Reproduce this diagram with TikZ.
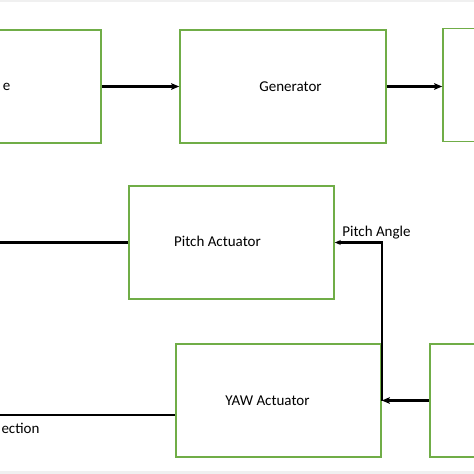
\documentclass[tikz,border=0pt]{standalone}
\usepackage{fontspec}
\setmainfont{Carlito}
\usetikzlibrary{arrows.meta}
\definecolor{boxgreen}{RGB}{112,173,71}

\begin{document}
\begin{tikzpicture}[>={Stealth[length=8pt,width=6.5pt,inset=1.5pt]},x=1pt,y=-1pt,
  block/.style={rectangle,draw=boxgreen,line width=1.6pt,minimum height=113pt},
  conn/.style={line width=2.3pt},
  every node/.style={font=\fontsize{15}{18}\selectfont}]

  \useasboundingbox (0,0) rectangle (474,474);
  \clip (0,0) rectangle (474,474);
  \fill[gray!12] (0,0) rectangle (474,2);
  \fill[gray!12] (0,471) rectangle (474,474);

  % top row
  \node[block,minimum width=189pt] (turbine) at (6.5,86.5) {e};
  \node[block,minimum width=206pt] (generator) at (283,86.5) {};
  \node (gentext) at (290.5,87) {Generator};
  \node[block,minimum width=80pt] (grid) at (483,85) {};

  % actuators
  \node[block,minimum width=205pt] (pitch) at (231.5,242.5) {};
  \node (pitchtext) at (217.5,241) {Pitch Actuator};
  \node[block,minimum width=205pt] (yaw) at (278.5,400.5) {};
  \node (yawtext) at (267.5,401) {YAW Actuator};
  \node[block,minimum width=80pt] (ctrl) at (470,400.5) {};

  \coordinate (pitchout) at (0,242.5);
  \coordinate (yawout) at (0,415);
  \node[anchor=east] (dirtext) at (43,428) {ection};
  \node (angletext) at (376.5,232.5) {Pitch Angle};

  \draw[conn,->] (turbine) -- (generator);
  \draw[conn,->] (generator.east) -- (generator.east -| grid.west);
  \draw[conn] (pitch.west) -- (pitchout);
  \draw[conn] (yaw.west |- yawout) -- (yawout);
  \draw[conn,->] (ctrl) -- (yaw);
  \draw[conn,-{Stealth[length=6pt,width=5pt]}] (yaw.east) |- (pitch.east);
\end{tikzpicture}
\end{document}
